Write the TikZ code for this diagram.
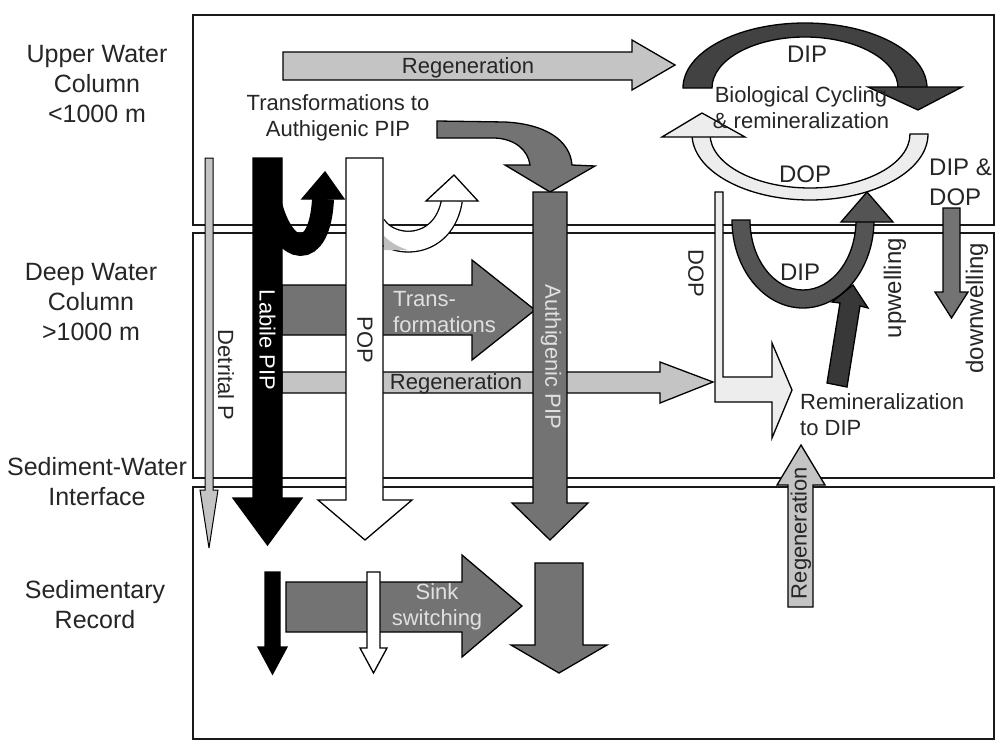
\documentclass[tikz,border=0pt]{standalone}
\usepackage{fontspec}
\setmainfont{Liberation Sans}
\begin{document}
\begin{tikzpicture}[x=1pt,y=-1pt,
  zone/.style={draw=black!90, line width=2pt},
  arr/.style={draw=black, line width=1.3pt, line join=miter, miter limit=6},
  lightg/.style={arr, fill=black!23},
  midg/.style={arr, fill=black!55},
  darkg/.style={arr, fill=black!67},
  deepg/.style={arr, fill=black!74},
  nightg/.style={arr, fill=black!78},
  whitef/.style={arr, fill=white},
  paleg/.style={arr, fill=black!7},
  blackf/.style={arr, fill=black},
  side/.style={font=\fontsize{25}{30}\selectfont, text=black!85, align=center, anchor=base, inner sep=0pt},
  lbl/.style={font=\fontsize{22}{26}\selectfont, text=black!85, inner sep=0pt},
  big/.style={font=\fontsize{24}{30}\selectfont, text=black!85, inner sep=0pt},
  inv/.style={lbl, text=black!12},
]
\useasboundingbox (0,0) rectangle (1004,747);
\fill[white] (0,0) rectangle (1004,747);

% zones
\draw[zone] (193,15) rectangle (994,225);
\draw[zone] (193,233) rectangle (994,478);
\draw[zone] (193,487) rectangle (994,739);

% side labels (anchor = baseline of last line)
\node[side] (upper) at (97,122) {Upper Water\\Column\\<1000 m};
\node[side] (deep) at (91,340) {Deep Water\\Column\\>1000 m};
\node[side] (swi) at (97,505) {Sediment-Water\\Interface};
\node[side] (rec) at (95,628) {Sedimentary\\Record};

% upper regeneration
\draw[lightg] (283,52) -- (632,52) -- (632,40) -- (675,65) -- (632,90) -- (632,80) -- (283,80) -- cycle;

% transformations to authigenic (curved)
\draw[midg] (437,121) -- (505,122) .. controls (545,124) and (570,140) .. (572,165) -- (595,166) -- (550,192) -- (505,165) -- (530,165) .. controls (528,150) and (515,139) .. (495,138) -- (437,138) -- cycle;

% deep regeneration and transformations
\draw[lightg] (282,372) -- (660,372) -- (660,362) -- (713,382) -- (660,403) -- (660,393) -- (282,393) -- cycle;
\draw[midg] (282,285) -- (472,285) -- (472,260) -- (535,310) -- (472,360) -- (472,335) -- (282,335) -- cycle;

% authigenic PIP
\draw[midg] (533,192) -- (567,192) -- (567,503) -- (588,503) -- (550,540) -- (512,503) -- (533,503) -- cycle;

% detrital P
\draw[lightg, line width=1pt] (205,158) -- (213,158) -- (213,490) -- (218,490) -- (209,548) -- (200,490) -- (205,490) -- cycle;

% labile PIP with curved return
\draw[line width=22pt, black] (270,200) .. controls (283,258) and (320,262) .. (323,199);
\draw[blackf] (302,199) -- (344,199) -- (325,172) -- cycle;
\draw[blackf] (253,158) -- (282,158) -- (282,498) -- (302,498) -- (267.5,545) -- (233,498) -- (253,498) -- cycle;

% POP with curved white arrow
\draw[line width=22pt, black] (376,226) .. controls (392,250) and (444,250) .. (452,200);
\draw[line width=19.4pt, white] (376,226) .. controls (392,250) and (444,250) .. (452,200);
\fill[black!25] (384,236) -- (384,250) -- (408,250) .. controls (398,247) and (390,242) .. cycle;
\draw[whitef] (426,201) -- (478,201) -- (454,175) -- cycle;
\draw[whitef] (346,158) -- (383,158) -- (383,500) -- (412,500) -- (365,540) -- (318,500) -- (346,500) -- cycle;

% biological cycling
\draw[deepg] (683,88) arc[start angle=180,end angle=360,x radius=122,y radius=65] -- (898,88) arc[start angle=0,end angle=-180,x radius=93,y radius=51] -- cycle;
\draw[deepg] (868,87) -- (962,87) -- (918,110) -- cycle;
\draw[paleg] (928,134) arc[start angle=0,end angle=180,x radius=118,y radius=66] -- (710,134) arc[start angle=180,end angle=0,x radius=100,y radius=54] -- cycle;
\draw[paleg] (662,137) -- (745,137) -- (702,113) -- cycle;

% upwelling loop
\draw[darkg] (732,220) arc[start angle=180,end angle=0,x radius=71,y radius=88] -- (856,220) arc[start angle=0,end angle=180,x radius=53,y radius=70] -- cycle;
\draw[darkg] (841,222) -- (893,222) -- (867,192) -- cycle;

% downwelling
\draw[midg] (943,208) -- (960,208) -- (960,292) -- (968,292) -- (951.5,318) -- (935,292) -- (943,292) -- cycle;

% DOP L-arrow
\draw[paleg] (715,192) -- (723,192) -- (723,377) -- (772,377) -- (772,343) -- (792,390) -- (772,438) -- (772,402) -- (715,402) -- cycle;

% upwelling straight arrow
\draw[nightg] (827,383) -- (840,303) -- (832,302) -- (853,285) -- (868,308) -- (860,306) -- (847,387) -- cycle;

% bottom regeneration
\draw[lightg] (788,607) -- (788,485) -- (777,485) -- (801,445) -- (825,485) -- (813,485) -- (813,607) -- cycle;

% sedimentary record
\draw[blackf] (265,572) -- (280,572) -- (280,647) -- (287,647) -- (272.5,674) -- (258,647) -- (265,647) -- cycle;
\draw[midg] (286,582) -- (462,582) -- (462,555) -- (522,606) -- (462,657) -- (462,632) -- (286,632) -- cycle;
\draw[whitef] (367,572) -- (380,572) -- (380,648) -- (387,648) -- (373.5,673) -- (360,648) -- (367,648) -- cycle;
\draw[midg] (535,563) -- (583,563) -- (583,645) -- (607,645) -- (559,673) -- (511,645) -- (535,645) -- cycle;

% texts
\node[lbl, anchor=base] (regU) at (468,73) {Regeneration};
\node[lbl, anchor=base, align=center] (trA) at (338,136) {Transformations to\\Authigenic PIP};
\node[big, anchor=base] (dipT) at (807,62) {DIP};
\node[lbl, anchor=base, align=center] (bio) at (801,128) {Biological Cycling\\\& remineralization};
\node[big, anchor=base] (dopR) at (805,182) {DOP};
\node[big, anchor=base west, align=left] (dipdop) at (929,205) {DIP \&\\DOP};
\node[lbl, rotate=-90] (detr) at (226,375) {Detrital P};
\node[lbl, rotate=-90, text=white] (lab) at (267.5,340) {Labile PIP};
\node[lbl, rotate=-90] (pop) at (365,340) {POP};
\node[inv, rotate=-90] (auth) at (551,357) {Authigenic PIP};
\node[inv, anchor=base west, align=left] (trans) at (393,332) {Trans-\\formations};
\node[lbl, anchor=base] (regD) at (456,389) {Regeneration};
\node[lbl, rotate=-90] (dopD) at (696,273) {DOP};
\node[big, anchor=base] (dipU) at (800,280) {DIP};
\node[big, rotate=90] (upw) at (895,288) {upwelling};
\node[big, rotate=90] (dnw) at (977,308) {downwelling};
\node[lbl, anchor=base west, align=left] (remin) at (800,435) {Remineralization\\to DIP};
\node[lbl, rotate=90] (regB) at (801,533) {Regeneration};
\node[inv, anchor=base, align=center] (sink) at (437,625) {Sink\\switching};
\end{tikzpicture}
\end{document}
